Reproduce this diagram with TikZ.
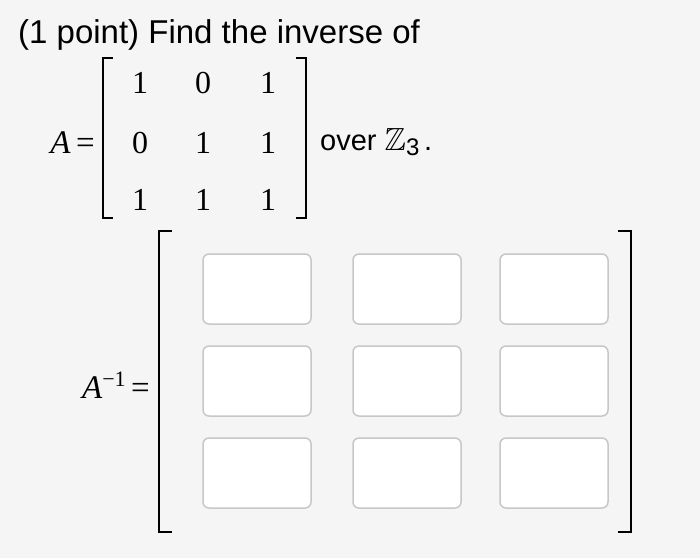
\documentclass[tikz,border=0pt]{standalone}
\usepackage{amssymb}
\usepackage{fontspec}
\setmainfont{Liberation Serif}
\newfontfamily\hv{Liberation Sans}
\begin{document}
\begin{tikzpicture}[x=1pt,y=-1pt,
  txt/.style={font=\hv\fontsize{33}{35}\selectfont,inner sep=0pt},
  num/.style={font=\fontsize{32}{34}\selectfont,inner sep=0pt},
  mth/.style={font=\fontsize{33}{35}\selectfont,inner sep=0pt},
  ansbox/.style={draw=black!22,line width=1.5pt,fill=white,rounded corners=6pt,minimum width=108pt,minimum height=70pt,inner sep=0pt},
  brk/.style={line width=1.8pt}]
\fill[black!4] (0,0) rectangle (700,558);
\node[txt,anchor=west] (title) at (18,35) {(1 point) Find the inverse of};
% matrix A
\node[mth,anchor=east] (alab) at (95,143) {\textit{A}\,=};
\draw[brk] (113,58) -- (103,58) -- (103,218) -- (113,218);
\draw[brk] (296,58) -- (306,58) -- (306,218) -- (296,218);
\foreach \r/\y in {1/83,2/143,3/200}{
  \foreach \c/\x in {1/140,2/203,3/268}{
    \node[num] (a\r\c) at (\x,\y) {};
  }}
\node[num] at (a11) {1};\node[num] at (a12) {0};\node[num] at (a13) {1};
\node[num] at (a21) {0};\node[num] at (a22) {1};\node[num] at (a23) {1};
\node[num] at (a31) {1};\node[num] at (a32) {1};\node[num] at (a33) {1};
\node[txt,anchor=west,font=\hv\fontsize{29}{31}\selectfont] (over) at (320,142) {over {\fontsize{32}{34}\selectfont$\mathbb{Z}$}\raisebox{-5pt}{\fontsize{24}{26}\selectfont 3}\,.};
% inverse
\node[mth,anchor=east] (ilab) at (150,385) {\textit{A}\raisebox{12pt}{\fontsize{22}{24}\selectfont −1}\,=};
\draw[brk] (172,231) -- (159,231) -- (159,532) -- (172,532);
\draw[brk] (618,231) -- (631,231) -- (631,532) -- (618,532);
\foreach \r/\y in {1/289,2/381,3/473}{
  \foreach \c/\x in {1/257,2/407,3/554}{
    \node[ansbox] (b\r\c) at (\x,\y) {};
  }}
\end{tikzpicture}
\end{document}
